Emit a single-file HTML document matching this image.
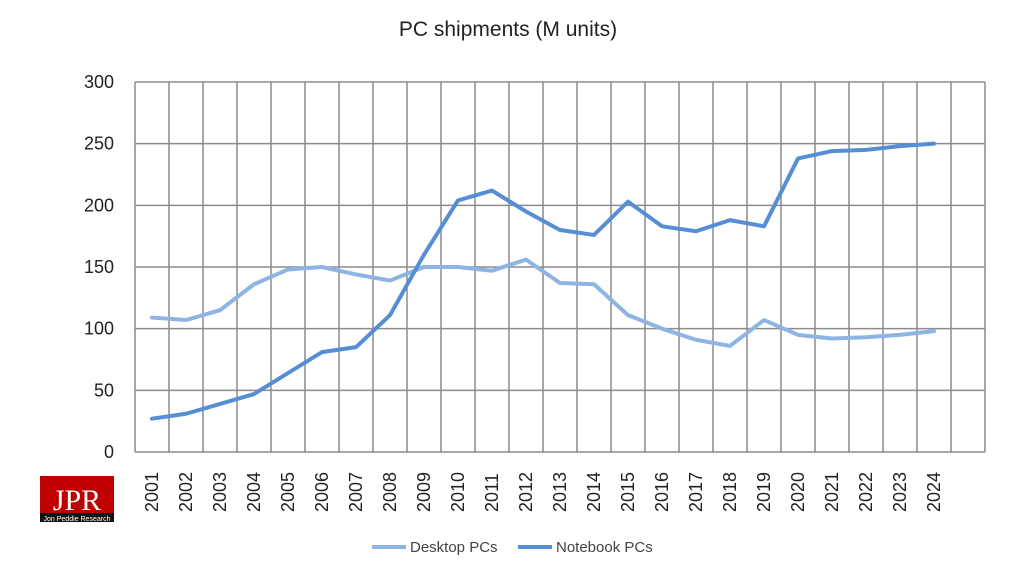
<!DOCTYPE html>
<html><head><meta charset="utf-8"><style>
body{margin:0;background:#fff;font-family:"Liberation Sans",sans-serif}
</style></head><body>
<svg id="chart" width="1024" height="564" xmlns="http://www.w3.org/2000/svg">
<text x="508" y="36" text-anchor="middle" font-size="21" fill="#222">PC shipments (M units)</text>
<g id="grid"></g><g id="series"></g><g id="labels"></g>
<g>
<rect x="40" y="476" width="74" height="40" fill="#c00000"/>
<rect x="40" y="513" width="74" height="9" fill="#111"/>
<text x="77" y="510" text-anchor="middle" font-family="Liberation Serif,serif" font-size="30" fill="#fff">JPR</text>
<text x="77" y="521" text-anchor="middle" font-size="7" fill="#fff">Jon Peddie Research</text>
</g>
<g>
<line x1="372" y1="547" x2="406" y2="547" stroke="#8db4e2" stroke-width="4"/>
<text x="410" y="552" font-size="15" fill="#444">Desktop PCs</text>
<line x1="518" y1="547" x2="552" y2="547" stroke="#558ed5" stroke-width="4"/>
<text x="556" y="552" font-size="15" fill="#444">Notebook PCs</text>
</g>
</svg>
<script>
const years=["2001","2002","2003","2004","2005","2006","2007","2008","2009","2010","2011","2012","2013","2014","2015","2016","2017","2018","2019","2020","2021","2022","2023","2024"];
const desktop=[109,107,115,136,148,150,144,139,150,150,147,156,137,136,111,100,91,86,107,95,92,93,95,98];
const notebook=[27,31,39,47,64,81,85,111,160,204,212,195,180,176,203,183,179,188,183,238,244,245,248,250];
const yTicks=[0,50,100,150,200,250,300];
const NS="http://www.w3.org/2000/svg";
const L=135,R=985,T=82,B=452,nCols=years.length+1,band=(R-L)/nCols;
const x=i=>L+band*(i+0.5);
const y=v=>B-(v/300)*(B-T);
function mk(tag,attrs,parent){const e=document.createElementNS(NS,tag);for(const k in attrs)e.setAttribute(k,attrs[k]);parent.appendChild(e);return e;}
const grid=document.getElementById('grid'),lab=document.getElementById('labels'),ser=document.getElementById('series');
yTicks.forEach(t=>{
 const g=mk('line',{x1:L,x2:R,y1:y(t),y2:y(t),stroke:'#8c8c8c','stroke-width':1.5},grid);
 
 
 const tx=mk('text',{x:114,y:y(t)+6,'text-anchor':'end','font-size':18,fill:'#222'},lab);
 tx.textContent=t;
 
 
});
for(let i=0;i<=nCols;i++){
 const g=mk('line',{x1:L+band*i,x2:L+band*i,y1:T,y2:B,stroke:'#8c8c8c','stroke-width':1.5},grid);
 
 
}
years.forEach((yr,i)=>{
 const tx=mk('text',{transform:`translate(${x(i)+6},512) rotate(-90)`,'font-size':18,fill:'#222'},lab);
 tx.textContent=yr;
 
 
});
function line(vals,color,name){
 const p=mk('polyline',{points:vals.map((v,i)=>x(i)+','+y(v)).join(' '),fill:'none',stroke:color,'stroke-width':4,'stroke-linejoin':'round','stroke-linecap':'round'},ser);
 
 
}
line(desktop,'#8db4e2','desktop-line');
line(notebook,'#558ed5','notebook-line');
</script>
</body></html>
